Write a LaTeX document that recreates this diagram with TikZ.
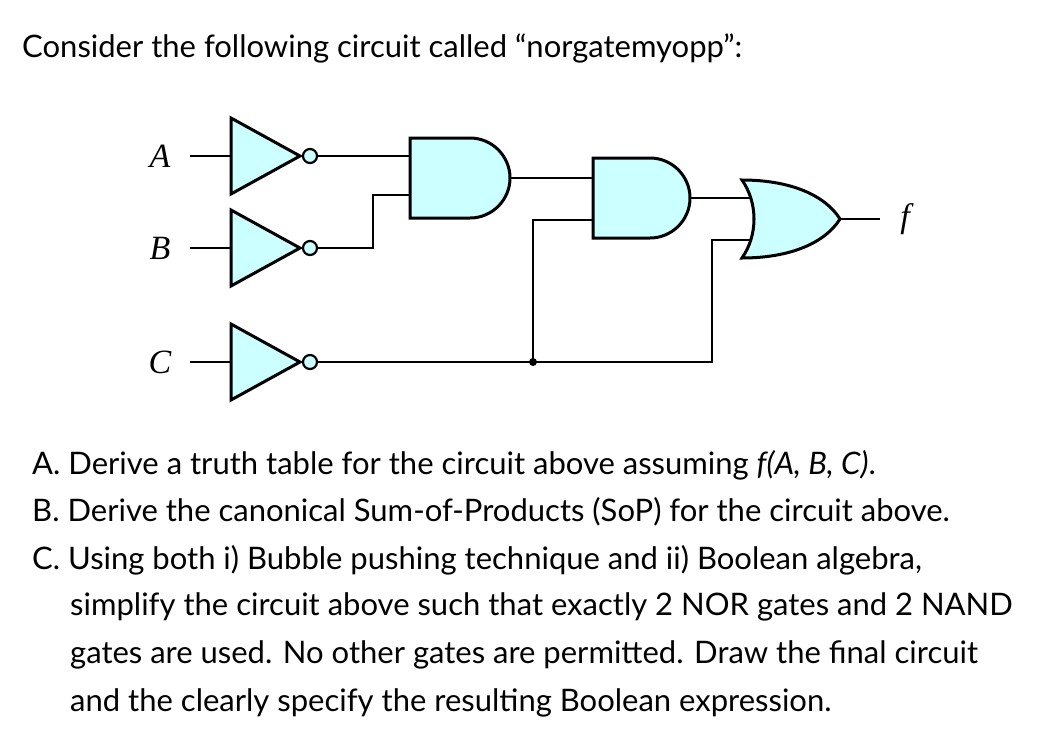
\documentclass[tikz,border=0pt]{standalone}
\usepackage{fontspec}
\setmainfont{Lato}
\usetikzlibrary{positioning}
\definecolor{gatefill}{RGB}{204,255,255}
\begin{document}
\begin{tikzpicture}[x=1pt,y=-1pt]
\tikzset{gate/.style={draw=black,line width=3pt,fill=gatefill},
wire/.style={line width=2.8pt},
txt/.style={anchor=west,inner sep=0pt,font=\fontsize{31}{36}\selectfont},
lbl/.style={font=\fontsize{34}{38}\selectfont\fontspec{Liberation Serif}\itshape}}
\useasboundingbox (0,0) rectangle (1060,742);
\node[txt] (title) at (22,48) {Consider the following circuit called “norgatemyopp”:};
% inverters
\foreach \n/\y in {A/156,B/248,C/362}{
\draw[gate] (231,\y-38) -- (300,\y) -- (231,\y+38) -- cycle;
\draw[gate,line width=2.2pt] (310,\y) circle (7pt);
\coordinate (o\n) at (317,\y);
\coordinate (i\n) at (190,\y);
\draw[wire] (i\n) -- (231,\y);
\node[lbl] (l\n) at (160,\y) {\n};
}
% and gates
\draw[gate] (410,138) -- (470,138) .. controls (492,138) and (510,156) .. (510,178)
 .. controls (510,200) and (492,218) .. (470,218) -- (410,218) -- cycle;
\draw[gate] (593,158) -- (650,158) .. controls (672,158) and (690,176) .. (690,198)
 .. controls (690,220) and (672,238) .. (650,238) -- (593,238) -- cycle;
\coordinate (g1) at (510,178);
\coordinate (g2) at (690,198);
% or gate
\draw[gate] (742,180) .. controls (790,180) and (825,195) .. (840,219)
 .. controls (825,243) and (790,258) .. (742,258)
 .. controls (758,235) and (758,203) .. (742,180) -- cycle;
\coordinate (g3) at (840,219);
\coordinate (f) at (880,219);
\node[lbl] (lf) at (905,219) {f};
\coordinate (dot) at (533,362);
% wiring
\draw[wire] (oA) -- (410,156);
\draw[wire] (oB) -- (373,248) -- (373,195) -- (410,195);
\draw[wire] (g1) -- (593,178);
\draw[wire] (oC) -- (dot) -- (712,362) -- (712,240) -- (752,240);
\draw[wire] (dot) |- (593,220);
\draw[wire] (g2) -- (752,198);
\draw[wire] (g3) -- (f);
\fill (dot) circle (4pt);
% questions
\node[txt] (qa) at (32,465) {A. Derive a truth table for the circuit above assuming \textit{f(A, B, C)}.};
\node[txt] (qb) at (32,512) {B. Derive the canonical Sum-of-Products (SoP) for the circuit above.};
\node[txt] (qc) at (32,560) {C. Using both i) Bubble pushing technique and ii) Boolean algebra,};
\node[txt] (qc2) at (70,607) {simplify the circuit above such that exactly 2 NOR gates and 2 NAND};
\node[txt] (qc3) at (70,655) {gates are used. No other gates are permitted. Draw the final circuit};
\node[txt] (qc4) at (70,703) {and the clearly specify the resulting Boolean expression.};
\end{tikzpicture}
\end{document}
